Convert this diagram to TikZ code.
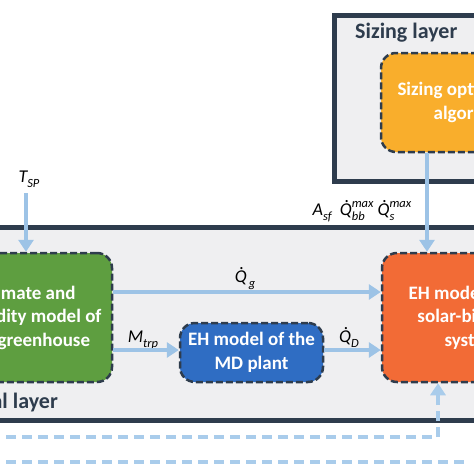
\documentclass[tikz,border=0pt]{standalone}
\usepackage{fontspec}
\setmainfont{Carlito}
\usetikzlibrary{arrows.meta,calc}
\definecolor{navy}{HTML}{2E3C4D}
\definecolor{layerfill}{HTML}{EFEFF1}
\definecolor{arrblue}{HTML}{9DC3E6}
\definecolor{dashblue}{HTML}{A9CCEB}
\definecolor{greenbox}{HTML}{5E9E40}
\definecolor{bluebox}{HTML}{2F6DC3}
\definecolor{redbox}{HTML}{F26B36}
\definecolor{yelbox}{HTML}{F9AE2C}
\newcommand{\Qd}{\rlap{\kern0.27em\raisebox{0.7em}{.}}Q}
\newcommand{\lo}[1]{\raisebox{-0.28em}{\fontsize{12.5}{12.5}\selectfont\itshape #1}}
\newcommand{\lohi}[2]{\rlap{\lo{#1}}\raisebox{0.42em}{\fontsize{12.5}{12.5}\selectfont\itshape #2}}
\tikzset{
  layer/.style={draw=navy, line width=5pt, fill=layerfill},
  model/.style={draw=navy, line width=2.5pt, dash pattern=on 7pt off 3pt, rounded corners=15pt,
    text=white, font=\fontsize{19}{23.5}\selectfont\bfseries, align=center, inner sep=0pt},
  arr/.style={draw=arrblue, line width=4pt, -{Triangle[length=12pt,width=15pt]}},
  darr/.style={draw=dashblue, line width=4pt, dash pattern=on 10pt off 6pt},
  lbl/.style={font=\fontsize{18}{20}\selectfont\itshape, inner sep=0pt, text=black},
  laylbl/.style={font=\fontsize{22}{26}\selectfont\bfseries, text=navy, inner sep=0pt}
}
\begin{document}
\begin{tikzpicture}[x=1pt,y=-1pt]
\useasboundingbox (0,0) rectangle (474,474);
\clip (0,0) rectangle (474,474);
\fill[white] (0,0) rectangle (474,474);
% layers
\draw[layer] (334,15.5) rectangle (500,181);
\draw[layer] (-20,227.5) rectangle (500,420);
\node[laylbl, anchor=base west] (sizlbl) at (355,38) {Sizing layer};
\node[laylbl, anchor=base east] (oplbl) at (58,408) {Operational layer};
% models
\node[model, fill=greenbox, minimum width=167pt, minimum height=129pt] (green) at (28.5,317.5)
  {Climate and\\humidity model of\\the greenhouse};
\node[model, fill=bluebox, minimum width=143pt, minimum height=59pt] (blue) at (251.5,352.5)
  {EH model of the\\MD plant};
\node[model, fill=redbox, minimum width=180pt, minimum height=129pt] (eh) at (472,317.5)
  {\raisebox{-4pt}{\parbox{180pt}{\centering EH model of the\\solar-biomass\\system}}};
\node[model, fill=yelbox, minimum width=182pt, minimum height=99pt] (opt) at (472,102.5)
  {Sizing optimization\\algorithm};
% labels
\node[lbl, anchor=base] (tsp) at (29,182) {T\lo{SP}};
\node[lbl, anchor=base] (asz) at (362,215) {A\lo{sf}\ \ \Qd\lohi{bb}{max}\ \Qd\lohi{s}{max}};
\node[lbl, anchor=base] (qg) at (245,282) {\Qd\lo{\,g}};
\node[lbl, anchor=base] (mtrp) at (143,342) {M\lo{trp}};
\node[lbl, anchor=base] (qd) at (349,342) {\Qd\lo{D}};
% coordinates
\coordinate (tsptop) at (26,193);
\coordinate (yg) at (0,292);
\coordinate (ym) at (0,350);
\coordinate (xs) at (427,0);
\coordinate (fb) at (438,437);
\coordinate (fbl) at (-10,437);
\coordinate (b1) at (-10,462);
\coordinate (b2) at (468,462);
% connectors
\draw[arr] (tsptop) -- (tsptop |- green.north);
\draw[arr] (green.east |- yg) -- (eh.west |- yg);
\draw[arr] (green.east |- ym) -- (blue.west |- ym);
\draw[arr] (blue.east |- ym) -- (eh.west |- ym);
\draw[arr] (opt.south -| xs) -- (eh.north -| xs);
\draw[darr] (fbl) -- (fb) -- ($(eh.south -| fb)+(0,16)$);
\draw[arr, draw=dashblue] ($(eh.south -| fb)+(0,16)$) -- (eh.south -| fb);
\draw[darr] (b1) -- (b2);
\end{tikzpicture}
\end{document}
